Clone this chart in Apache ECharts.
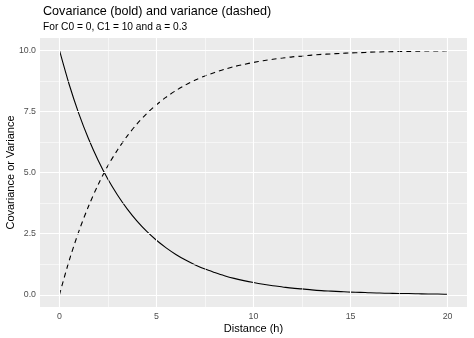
<!DOCTYPE html>
<html><head><meta charset="utf-8">
<script src="https://cdn.jsdelivr.net/npm/echarts@6/dist/echarts.min.js"></script>
<style>html,body{margin:0;padding:0;background:#fff}#c{width:474px;height:338px}</style>
</head><body><div id="c"></div>
<script>
var distance = [0,0.5,1,1.5,2,2.5,3,3.5,4,4.5,5,5.5,6,6.5,7,7.5,8,8.5,9,9.5,10,10.5,11,11.5,12,12.5,13,13.5,14,14.5,15,15.5,16,16.5,17,17.5,18,18.5,19,19.5,20];
var covariance = [10,8.61,7.41,6.38,5.49,4.72,4.07,3.50,3.01,2.59,2.23,1.92,1.65,1.42,1.22,1.05,0.91,0.78,0.67,0.58,0.50,0.43,0.37,0.32,0.27,0.24,0.20,0.17,0.15,0.13,0.11,0.10,0.08,0.07,0.06,0.05,0.05,0.04,0.03,0.03,0.02];
var variance = [0,1.39,2.59,3.62,4.51,5.28,5.93,6.50,6.99,7.41,7.77,8.08,8.35,8.58,8.78,8.95,9.09,9.22,9.33,9.42,9.50,9.57,9.63,9.68,9.73,9.76,9.80,9.83,9.85,9.87,9.89,9.90,9.92,9.93,9.94,9.95,9.95,9.96,9.97,9.97,9.98];
var xTicks = [0,5,10,15,20];
var xMinor = [2.5,7.5,12.5,17.5];
var yTicks = [0,2.5,5,7.5,10];
var yMinor = [1.25,3.75,6.25,8.75];

var font = 'Liberation Sans, Arial, sans-serif';
var chart = echarts.init(document.getElementById('c'), null, {renderer:'canvas'});
function pairs(ys){ return distance.map(function(x,i){return [x, ys[i]];}); }
var gridLines = [];
xMinor.forEach(function(v){gridLines.push({xAxis:v, lineStyle:{width:0.55}});});
yMinor.forEach(function(v){gridLines.push({yAxis:v, lineStyle:{width:0.55}});});
xTicks.forEach(function(v){gridLines.push({xAxis:v, lineStyle:{width:1.1}});});
yTicks.forEach(function(v){gridLines.push({yAxis:v, lineStyle:{width:1.1}});});

chart.setOption({
  animation:false,
  title:[
    {text:'Covariance (bold) and variance (dashed)', left:38, top:0, textStyle:{fontFamily:font, fontSize:12.6, fontWeight:'normal', color:'#000'}},
    {text:'For C0 = 0, C1 = 10 and a = 0.3', left:38, top:17, textStyle:{fontFamily:font, fontSize:10.2, fontWeight:'normal', color:'#000'}}
  ],
  grid:{left:40, right:7, top:38, bottom:31, show:true, backgroundColor:'#EBEBEB', borderWidth:0, containLabel:false, outerBoundsMode:'none'},
  xAxis:{type:'value', min:-1, max:21,
    name:'Distance (h)', nameLocation:'middle', nameGap:16, nameMoveOverlap:false,
    nameTextStyle:{fontFamily:font, fontSize:11, color:'#000'},
    axisLine:{show:false},
    axisTick:{show:true, length:3, lineStyle:{color:'#333', width:1}, customValues:xTicks},
    axisLabel:{fontFamily:font, fontSize:8.8, color:'#4D4D4D', margin:5, customValues:xTicks},
    splitLine:{show:false}},
  yAxis:{type:'value', min:-0.5, max:10.5,
    name:'Covariance or Variance', nameLocation:'middle', nameGap:24, nameMoveOverlap:false,
    nameTextStyle:{fontFamily:font, fontSize:11, color:'#000'},
    axisLine:{show:false},
    axisTick:{show:true, length:3, lineStyle:{color:'#333', width:1}, customValues:yTicks},
    axisLabel:{fontFamily:font, fontSize:8.8, color:'#4D4D4D', margin:4, customValues:yTicks, formatter:function(v){return v.toFixed(1);}},
    splitLine:{show:false}},
  series:[
    {type:'line', z:1, data:[[0,0]], showSymbol:false, symbol:'none', lineStyle:{opacity:0}, silent:true,
     markLine:{silent:true, symbol:['none','none'], label:{show:false}, animation:false,
       lineStyle:{color:'#FFFFFF', type:'solid'}, data:gridLines}},
    {type:'line', z:3, data:pairs(covariance), showSymbol:false, symbol:'none', smooth:0.3,
     lineStyle:{color:'#000', width:1.1, type:'solid'}},
    {type:'line', z:3, data:pairs(variance), showSymbol:false, symbol:'none', smooth:0.3,
     lineStyle:{color:'#000', width:1.1, type:[5,4]}}
  ]
});
</script></body></html>
